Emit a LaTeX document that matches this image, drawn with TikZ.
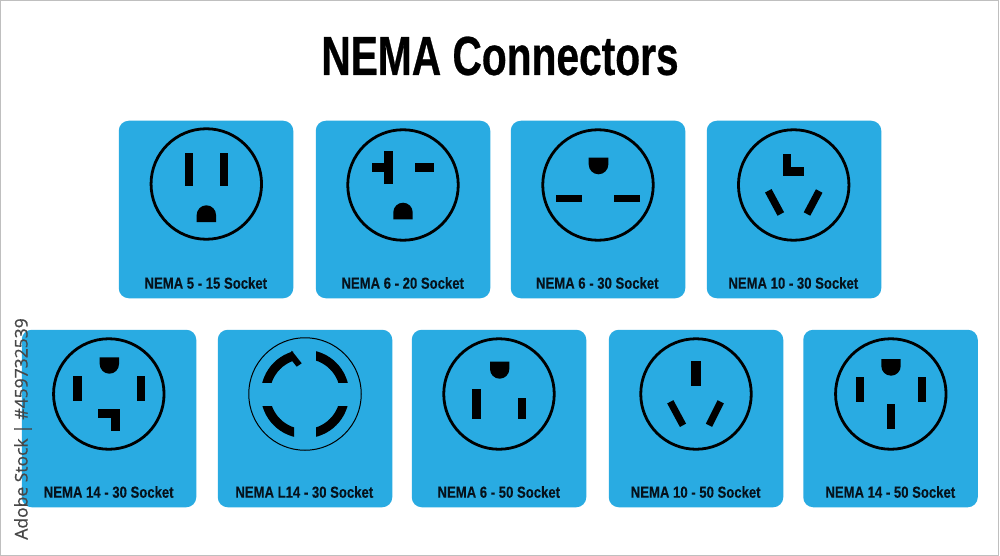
\documentclass[tikz,border=0pt]{standalone}
\usepackage{fontspec}
\setmainfont{Liberation Sans}
\newfontfamily\labelfont[FakeStretch=0.82,FakeBold=0.25]{Liberation Sans Bold}
\newfontfamily\titlefont[FakeStretch=0.74,FakeBold=0.5]{Liberation Sans Bold}
\newfontfamily\stampfont[FakeBold=0.6]{Open Sans}
\definecolor{panelblue}{HTML}{29ABE2}
\definecolor{inkdark}{HTML}{06121C}
\tikzset{
  panel/.style={fill=panelblue,rounded corners=10pt,minimum width=174.5pt,minimum height=177.5pt,inner sep=0pt,outer sep=0pt},
  face/.style={circle,draw=black,line width=2.8pt,minimum size=110.5pt,inner sep=0pt,outer sep=0pt},
  thinface/.style={circle,draw=black,line width=1pt,minimum size=112.5pt,inner sep=0pt,outer sep=0pt},
  caption/.style={font=\labelfont\fontsize{16}{16}\selectfont,text=inkdark,inner sep=0pt},
  slant/.style={draw=black,line width=7.4pt},
  lockarc/.style={draw=black,line width=9pt},
  blade/.style={fill=black}
}
\newcommand{\bladebox}[4]{\fill[blade] (#1,#2) rectangle (#3,#4);}
% round top, flat bottom: x1 x2 ytop ybottom
\newcommand{\domeup}[4]{%
  \pgfmathsetmacro{\rr}{(#2-#1)/2}\pgfmathsetmacro{\xc}{(#1+#2)/2}%
  \pgfmathsetmacro{\ym}{#3+\rr}\pgfmathsetmacro{\cc}{0.5523*\rr}%
  \fill[blade] (#1,#4) -- (#1,\ym) .. controls (#1,\ym-\cc) and (\xc-\cc,#3) .. (\xc,#3)
    .. controls (\xc+\cc,#3) and (#2,\ym-\cc) .. (#2,\ym) -- (#2,#4) -- cycle;}
% flat top, round bottom
\newcommand{\domedown}[4]{%
  \pgfmathsetmacro{\rr}{(#2-#1)/2}\pgfmathsetmacro{\xc}{(#1+#2)/2}%
  \pgfmathsetmacro{\ym}{#4-\rr}\pgfmathsetmacro{\cc}{0.5523*\rr}%
  \fill[blade] (#1,#3) -- (#1,\ym) .. controls (#1,\ym+\cc) and (\xc-\cc,#4) .. (\xc,#4)
    .. controls (\xc+\cc,#4) and (#2,\ym+\cc) .. (#2,\ym) -- (#2,#3) -- cycle;}
\begin{document}
\begin{tikzpicture}[x=1pt,y=-1pt]
\useasboundingbox (0,0) rectangle (1000,556);
\fill[white] (0,0) rectangle (1000,556);
\draw[black!25,line width=1pt] (0.5,0.5) rectangle (998.5,555.5);
\node[font=\titlefont\fontsize{55}{55}\selectfont,text=black,inner sep=0pt] (title) at (500,56) {NEMA Connectors};

% panels
\node[panel] (p1) at (206,209.5) {};
\node[panel] (p2) at (403,209.5) {};
\node[panel] (p3) at (598,209.5) {};
\node[panel] (p4) at (794,209.5) {};
\node[panel] (p5) at (109,418.5) {};
\node[panel] (p6) at (305,418.5) {};
\node[panel] (p7) at (499,418.5) {};
\node[panel] (p8) at (696,418.5) {};
\node[panel] (p9) at (890.5,418.5) {};

% faces
\node[face] (c1) at (206.3,184) {};
\node[face] (c2) at (403,185) {};
\node[face] (c3) at (598,185) {};
\node[face] (c4) at (793.7,185) {};
\node[face] (c5) at (108.8,394) {};
\node[thinface] (c6) at (305,394) {};
\node[face] (c7) at (499,394) {};
\node[face] (c8) at (696,394) {};
\node[face] (c9) at (890.8,394) {};

% captions
\node[caption] (t1) at (205.8,283) {NEMA 5 - 15 Socket};
\node[caption] (t2) at (402.7,283) {NEMA 6 - 20 Socket};
\node[caption] (t3) at (597.3,283) {NEMA 6 - 30 Socket};
\node[caption] (t4) at (793.3,283) {NEMA 10 - 30 Socket};
\node[caption] (t5) at (108.7,492) {NEMA 14 - 30 Socket};
\node[caption] (t6) at (304.3,492) {NEMA L14 - 30 Socket};
\node[caption] (t7) at (498.8,492) {NEMA 6 - 50 Socket};
\node[caption] (t8) at (695.7,492) {NEMA 10 - 50 Socket};
\node[caption] (t9) at (890.3,492) {NEMA 14 - 50 Socket};

% 5-15
\bladebox{184.7}{153.3}{192.7}{186}
\bladebox{220.3}{153.3}{227.7}{186}
\domeup{196.7}{216}{205.3}{222}
% 6-20
\bladebox{384.3}{151}{393}{184}
\bladebox{371.7}{162.7}{393}{172}
\bladebox{414.7}{162.7}{434}{172}
\domeup{393.3}{412.7}{202.7}{219.3}
% 6-30
\domedown{588.7}{608.3}{157.7}{174.3}
\bladebox{556}{195}{582}{202.3}
\bladebox{614}{195}{640}{202.3}
% 10-30
\bladebox{782.7}{154.3}{790.7}{175.7}
\bladebox{782.7}{167.3}{804.3}{175.7}
\draw[slant] (768.3,190.8) -- (780.8,214);
\draw[slant] (819.2,191) -- (807,214);
% 14-30
\domedown{99.7}{119}{357.3}{373.7}
\bladebox{73.3}{376}{81.7}{401}
\bladebox{136.7}{376}{145}{401}
\bladebox{98.3}{409.3}{120}{418.3}
\bladebox{111}{409.3}{120}{431}
% L14-30
\begin{scope}\clip (250,340) rectangle (293,382.3);\draw[lockarc] (c6.center) circle[radius=39.7];\end{scope}
\begin{scope}\clip (316,340) rectangle (360,382.3);\draw[lockarc] (c6.center) circle[radius=39.7];\end{scope}
\begin{scope}\clip (250,406.5) rectangle (294,450);\draw[lockarc] (c6.center) circle[radius=39.7];\end{scope}
\begin{scope}\clip (316,406.5) rectangle (360,450);\draw[lockarc] (c6.center) circle[radius=39.7];\end{scope}
\fill[blade] (291.7,350.7) -- (301.7,363.3) -- (296.7,366.7) -- (289,357) -- cycle;
% 6-50
\domedown{490}{509.3}{361.7}{378.7}
\bladebox{472}{389}{481}{419.3}
\bladebox{518.3}{397.7}{526.3}{419.3}
% 10-50
\bladebox{691.3}{361}{700.7}{385.7}
\draw[slant,line width=7pt] (670.3,401.8) -- (683,425.3);
\draw[slant,line width=7pt] (720.7,401.8) -- (709,425.3);
% 14-50
\domedown{881.3}{900.7}{359}{375.7}
\bladebox{855.7}{376.7}{864}{401.7}
\bladebox{918}{376.7}{926}{401.7}
\bladebox{886.7}{404.3}{895}{429.3}

% stock stamp
\node[font=\stampfont\fontsize{17.5}{17.5}\selectfont,text=black!72,rotate=90,inner sep=0pt] (stamp) at (23,429) {Adobe Stock | \#459732539};
\end{tikzpicture}
\end{document}
